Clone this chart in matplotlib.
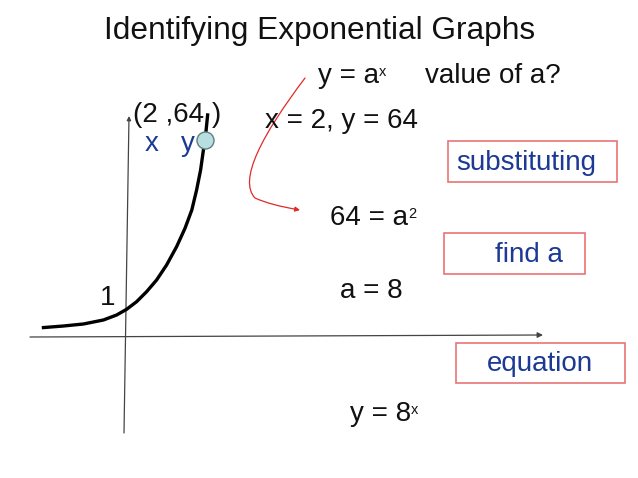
import matplotlib
matplotlib.use("Agg")
import matplotlib.pyplot as plt
from matplotlib.patches import Rectangle, FancyArrowPatch
from matplotlib.path import Path

plt.rcParams['font.family'] = ['Liberation Sans', 'DejaVu Sans']

# ---- data: sketched exponential curve (x, y in graph units) ----
curve_x = [-2.08, -1.54, -1.04, -0.54, -0.21, 0.04, 0.29, 0.54, 0.79, 1.04,
           1.29, 1.50, 1.67, 1.79, 1.89, 1.96, 2.02, 2.07]
curve_y = [3.02, 3.57, 4.22, 5.52, 7.14, 8.99, 11.46, 14.71, 18.51, 23.38,
           29.32, 35.29, 41.23, 47.73, 54.22, 60.71, 66.13, 72.63]
point_x = [2]
point_y = [64]

title = "Identifying Exponential Graphs"
box_labels = ["substituting", "find a", "equation"]

W, H = 638, 478
fig = plt.figure(figsize=(W / 100, H / 100), dpi=100)
ax = fig.add_axes([0, 0, 1, 1])
ax.set_xlim(0, W)
ax.set_ylim(H, 0)
ax.axis('off')

# graph axes: origin at pixel (125, 337), 40 px per x unit, 3.08 px per y unit
gx0, gy0, sx, sy = 125, 337, 40.0, 3.08
ag = fig.add_axes([0, 0, 1, 1])
ag.set_xlim((0 - gx0) / sx, (W - gx0) / sx)
ag.set_ylim((gy0 - H) / sy, gy0 / sy)
ag.axis('off')
ag.patch.set_alpha(0)

black = '#111111'
blue = '#1c3a94'
boxred = '#e87474'
FS = 20


def with_sup(x, y, base, sup, rise=7, size=10.5):
    t = ax.text(x, y, base, fontsize=FS, color=black, va='baseline')
    ax.annotate(sup, xy=(1, y - rise), xycoords=(t, 'data'), fontsize=size,
                color=black, va='baseline', ha='left')
    return t


# title
ax.text(320, 39, title, fontsize=22.8, ha='center', va='baseline', color=black)

# axes lines
ax.annotate('', xy=(543, 335), xytext=(30, 337),
            arrowprops=dict(arrowstyle='-|>', color='#444444', lw=0.9,
                            mutation_scale=8, shrinkA=0, shrinkB=0))
ax.annotate('', xy=(129, 116), xytext=(124, 433),
            arrowprops=dict(arrowstyle='-|>', color='#444444', lw=0.9,
                            mutation_scale=6, shrinkA=0, shrinkB=0))

# curve and point
ag.plot(curve_x, curve_y, color='black', lw=2.4, solid_joinstyle='round',
        solid_capstyle='butt', zorder=3)
ag.scatter(point_x, point_y, s=150, color='#b7dfe1', edgecolor='#5f7f80', lw=1, zorder=4)

# graph labels
ax.text(133, 122, "(2 ,64 )", fontsize=FS, color=black, va='baseline')
ax.text(145, 151, "x", fontsize=FS, color=blue, va='baseline')
ax.text(181, 151, "y", fontsize=FS, color=blue, va='baseline')
ax.text(100, 305, "1", fontsize=FS, color=black, va='baseline')

# right side text
with_sup(318, 83, "y = a", "x")
ax.text(425, 83, "value of a?", fontsize=FS, color=black, va='baseline')
ax.text(265, 128, "x = 2, y = 64", fontsize=FS, color=black, va='baseline')
with_sup(330, 225, "64 = a", "2")
ax.text(340, 298, "a = 8", fontsize=FS, color=black, va='baseline')
with_sup(350, 421, "y = 8", "x")

# boxes
boxes = [(448, 141, 169, 41), (444, 233, 141, 41), (456, 343, 169, 40)]
label_centers = [526, 529, 540]
for (bx, by, bw, bh), lab, cx in zip(boxes, box_labels, label_centers):
    ax.add_patch(Rectangle((bx, by), bw, bh, fill=False, edgecolor=boxred, lw=1.2))
    ax.text(cx, by + bh / 2 + 1, lab, fontsize=FS, color=blue,
            ha='center', va='center')

# red curved arrow
p = Path([(305, 78), (262, 135), (238, 180), (255, 198),
          (270, 205), (300, 210)],
         [Path.MOVETO, Path.CURVE4, Path.CURVE4, Path.CURVE4, Path.CURVE3, Path.CURVE3])
arr = FancyArrowPatch(path=p, arrowstyle='-|>', color='#e02a2a', lw=0.9,
                      mutation_scale=7)
ax.add_patch(arr)

fig.savefig('out.png', dpi=100)
